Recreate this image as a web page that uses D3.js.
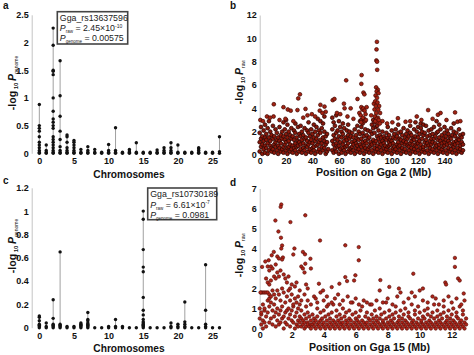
<!DOCTYPE html>
<html><head><meta charset="utf-8">
<script src="https://cdn.jsdelivr.net/npm/d3@7"></script>
<style>body{margin:0;background:#fff} text{font-family:"Liberation Sans",Arial,sans-serif}</style>
</head><body><svg id="chart" width="474" height="355"></svg>
<script>
// ---------- DATA ----------
// Panel a: -log10 P_genome per chromosome
const genomeA = [
 [0,[0.88,0.5,0.45,0.4,0.3,0.2,0.15,0.1,0.05,0.02,0]],
 [1,[0.15,0.05,0.02,0]],
 [2,[2.26,1.95,1.5,1.48,1.42,1.0,0.76,0.62,0.56,0.5,0.45,0.3,0.25,0.2,0.15,0.1,0.05,0.02,0]],
 [3,[1.67,1.04,0.67,0.4,0.25,0.12,0.05,0.02,0]],
 [4,[0.33,0.3,0.2,0.1,0.05,0.02,0]],
 [5,[0.23,0.2,0.15,0.1,0.05,0.02,0]],
 [6,[0.07,0.02,0]],
 [7,[0.12,0.05,0.02,0]],
 [8,[0.07,0.02,0]],
 [9,[0.02,0]],
 [10,[0.16,0.05,0.02,0]],
 [11,[0.46,0.05,0.02,0]],
 [12,[0.02,0]],
 [13,[0.07,0.04,0.02,0]],
 [14,[0.19,0.02,0]],
 [15,[0.02,0]],
 [16,[0.02,0]],
 [17,[0.06,0.02,0]],
 [18,[0.1,0.05,0.02,0]],
 [19,[0.19,0.1,0.05,0.02,0]],
 [20,[0.15,0.02,0]],
 [21,[0.02,0]],
 [22,[0.02,0]],
 [23,[0.1,0.08,0.05,0.02,0]],
 [24,[0.02,0]],
 [25,[0.02,0]],
 [26,[0.3,0.03,0]]
];
// Panel c
const genomeC = [
 [0,[0.1,0.09,0.06,0.03,0.02,0.01,0]],
 [1,[0.04,0.01,0]],
 [2,[0.24,0.08,0.03,0.02,0.01,0]],
 [3,[0.65,0.03,0.02,0.01,0]],
 [4,[0.01,0]],
 [5,[0.01,0]],
 [6,[0.04,0.03,0.02,0.01,0]],
 [7,[0.13,0.07,0.06,0.04,0.03,0.02,0.01,0]],
 [8,[0]],
 [9,[0]],
 [10,[0.01,0]],
 [11,[0.07,0.01,0]],
 [12,[0.01,0]],
 [13,[0]],
 [14,[0]],
 [15,[1.0,0.93,0.67,0.52,0.48,0.26,0.15,0.11,0.07,0.05,0.04,0.03,0.02,0.01,0]],
 [16,[0]],
 [17,[0]],
 [18,[0]],
 [19,[0.04,0.01,0]],
 [20,[0.03,0.01,0]],
 [21,[0.22,0.05,0.03,0.01,0]],
 [22,[0]],
 [23,[0]],
 [24,[0.54,0.15,0.03,0.01,0]],
 [25,[0]],
 [26,[0]]
];
const chromTicks = [0,5,10,15,20,25];
const ticksA = [0,0.5,1,1.5,2,2.5];
const ticksC = [0,0.2,0.4,0.6,0.8,1,1.2];

// Panel b: -log10 P_raw on Gga 2 (Mb), bulk per-Mb columns
const gga2Band = [
 [0,[0.3,1.1,1.9]],[1,[0.7,1.4,2.4]],[2,[0.1,0.9,1.6]],[3,[0.5,1.2,2.1]],[4,[0.2,0.8,1.5,2.6]],
 [5,[0.6,1.3,1.8]],[6,[0.1,1.0,2.3]],[7,[0.4,1.5,2.9]],[8,[0.8,1.2,2.0]],[9,[0.3,0.6,1.7]],
 [10,[0.5,1.4,2.5]],[11,[0.2,0.9,1.6]],[12,[0.7,1.1,2.2]],[13,[0.4,1.3,1.9]],[14,[0.1,0.8,1.5]],
 [15,[0.6,1.2,2.4]],[16,[0.3,1.0,1.7]],[17,[0.5,1.4,2.0]],[18,[0.2,0.7,1.6,2.8]],[19,[0.9,1.3,2.2]],
 [20,[0.4,1.1,1.8,3.0]],[21,[0.1,0.6,1.5,2.6]],[22,[0.7,1.2,2.0]],[23,[0.3,0.9,1.7]],[24,[0.5,1.4,2.3]],
 [25,[0.2,0.8,1.6]],[26,[0.6,1.3,2.1]],[27,[0.4,1.0,1.9,2.7]],[28,[0.1,0.7,1.5]],[29,[0.8,1.2,2.4]],
 [30,[0.3,1.1,1.8]],[31,[0.5,0.9,1.6,2.5]],[32,[0.2,1.3,2.0]],[33,[0.6,1.0,1.7]],[34,[0.4,1.4,2.3]],
 [35,[0.1,0.8,1.5]],[36,[0.7,1.2,2.1]],[37,[0.3,0.9,1.9,2.8]],[38,[0.5,1.1,1.6]],[39,[0.2,1.3,2.2]],
 [40,[0.6,1.0,1.8]],[41,[0.4,0.7,1.5,2.6]],[42,[0.1,1.2,2.0]],[43,[0.8,1.4,2.4]],[44,[0.3,0.9,1.7,3.1]],
 [45,[0.5,1.1,2.1]],[46,[0.2,1.3,1.9,2.9]],[47,[0.7,1.0,2.3]],[48,[0.4,1.5,2.7]],[49,[0.6,1.2,2.0,3.3]],
 [50,[0.1,0.9,1.6]],[51,[0.3,1.1,1.8]],[52,[0.5]],
 [55,[0.4,1.2,2.2,3.2]],[56,[0.2,0.9,1.7,2.8]],[57,[0.6,1.4,2.5]],[58,[0.3,1.0,1.9,3.4]],[59,[0.7,1.3,2.1]],
 [60,[0.1,0.8,1.6,2.9]],[61,[0.5,1.1,2.4]],[62,[0.2,1.5,2.0]],[63,[0.6,0.9,1.8,2.7]],[64,[0.4,1.2,2.3]],
 [65,[0.1,0.7,1.5]],[66,[0.8,1.3,2.1]],[67,[0.3,1.0,1.7,2.6]],[68,[0.5,1.4,2.0]],[69,[0.2,0.6,1.6]],
 [70,[0.7,1.1,1.9]],[71,[0.4,0.9,1.5]],[72,[0.1,1.2,2.2]],[73,[0.6,1.0,1.7]],[74,[0.3,0.8,1.4,2.5]],
 [75,[0.5,1.3,2.0]],[76,[0.2,0.9,1.8,2.9]],[77,[0.7,1.4,2.4,3.0]],[78,[0.4,1.1,1.9,2.7]],[79,[0.1,0.8,1.6,3.1]],
 [80,[0.6,1.2,2.2]],[81,[0.3,1.0,1.7]],[82,[0.5,1.4,2.1]],[83,[0.2,0.7,1.5]],[84,[0.8,1.1,2.0]],
 [85,[0.4,0.9,1.8,2.6]],[86,[0.1,1.3,2.3,3.0]],[87,[0.6,1.0,1.9,2.8]],[88,[0.3,1.2,2.4,3.2]],[89,[0.5,0.8,1.6,2.5]],
 [90,[0.2,1.4,2.1]],[91,[0.7,1.1,1.7]],[92,[0.4,0.9,1.5]],[93,[0.1,1.2,2.0]],[94,[0.6,1.0,1.6]],
 [95,[0.3,0.8,1.4]],[96,[0.5,1.3,1.9]],[97,[0.2,0.7,1.5,2.4]],[98,[0.8,1.1,1.7]],[99,[0.4,0.9,1.3]],
 [100,[0.1,1.2,2.1]],[101,[0.6,1.0,1.5]],[102,[0.3,0.7,1.8]],[103,[0.5,1.4,2.2]],[104,[0.2,0.9,1.6]],
 [105,[0.7,1.1,1.9,2.6]],[106,[0.4,0.8,1.4]],[107,[0.1,1.3,2.0]],[108,[0.6,1.0,1.7]],[109,[0.3,1.2,2.3]],
 [110,[0.5,0.9,1.5]],[111,[0.2,1.1,1.8]],[112,[0.8,1.4,2.1]],[113,[0.4,0.7,1.6]],[114,[0.1,1.0,1.9,2.5]],
 [115,[0.6,1.2,1.7]],[116,[0.3,0.9,1.4]],[117,[0.5,1.3,2.2]],[118,[0.2,0.8,1.6,2.8]],[119,[0.7,1.1,2.0]],
 [120,[0.4,1.0,1.5,2.4]],[121,[0.1,1.2,1.8]],[122,[0.6,0.9,2.3,2.7]],[123,[0.3,1.4,2.0]],[124,[0.5,0.7,1.7,2.6]],
 [125,[0.2,1.1,1.9]],[126,[0.8,1.3,2.5]],[127,[0.4,1.0,1.6]],[128,[0.1,0.8,2.1]],[129,[0.6,1.2,1.7]],
 [130,[0.3,0.9,1.4,2.2]],[131,[0.5,1.1,1.8]],[132,[0.2,1.4,2.4]],[133,[0.7,1.0,1.6]],[134,[0.4,0.8,1.9,2.9]],
 [135,[0.1,1.3,2.0]],[136,[0.6,0.9,1.5,2.6]],[137,[0.3,1.2,2.2]],[138,[0.5,1.0,1.7]],[139,[0.2,0.7,1.4]],
 [140,[0.8,1.1,1.9,2.4]],[141,[0.4,1.3,1.6]],[142,[0.1,0.9,2.1]],[143,[0.6,1.2,1.8]],[144,[0.3,1.0,1.5]],
 [145,[0.5,1.4,2.3]],[146,[0.2,0.8,1.7]],[147,[0.7,1.1,2.0,2.7]],[148,[0.4,0.9,1.6]],[149,[0.1,1.2,1.9]],
 [150,[0.6,1.0,1.4]],[151,[0.3,1.3,2.2]],[152,[0.5,0.8,1.7]],[153,[0.2,1.1,1.5]],[154,[0.4,0.9,1.8]]
];
// Panel b: higher single SNPs [Mb, -log10 P]
const gga2Peaks = [
 [88.8,9.7],[88.5,9.05],[88.4,8.1],[88.9,8.0],[89.0,7.3],[77.2,6.85],[65.5,6.4],[77.0,6.1],
 [88.2,5.8],[89.5,5.6],[88.6,5.45],[90.0,5.3],[87.8,5.1],[78.6,5.35],[79.3,5.2],[30.5,5.2],
 [29.2,4.85],[10.7,4.35],[18.0,4.1],[21.3,3.9],[23.5,3.8],[28.6,3.85],[34.7,3.95],[36.2,3.4],
 [46.0,4.3],[49.1,4.15],[50.0,3.7],[55.3,4.7],[56.6,4.8],[63.8,4.4],[64.3,4.0],[68.9,4.0],
 [74.1,4.8],[75.5,3.6],[77.0,4.1],[77.8,3.9],[78.5,4.0],[79.5,3.8],[80.2,3.5],[81.0,4.1],
 [76.5,3.4],[86.5,4.4],[87.0,3.9],[87.5,4.6],[88.0,4.2],[88.9,4.9],[89.2,4.5],[89.8,3.9],
 [90.5,4.2],[91.2,3.6],[87.3,3.3],[89.5,3.2],[104.7,3.15],[110.5,2.85],[119.0,3.3],[127.6,3.85],
 [135.0,3.45],[137.0,3.6],[148.0,3.65],[149.8,2.85],[0.5,3.0],[5.5,3.3],[10.5,3.3],[2.5,2.9],
 [7.8,3.2],[15.0,3.0],[19.5,3.1],[25.5,2.9],[33.0,3.2],[39.5,3.5],[42.0,3.3],[45.5,3.8],
 [47.5,3.6],[58.5,3.6],[61.0,3.5],[66.5,3.3],[71.0,3.1],[84.5,3.4],[93.0,2.9],[96.5,2.7],
 [100.5,2.8],[114.0,2.9],[122.5,3.0],[131.0,3.1],[141.5,3.0],[152.0,2.9],[88.3,3.6],[88.7,3.1],
 [89.1,2.8],[87.6,2.9],[90.2,3.0],[91.0,2.7],[78.2,3.2],[79.8,2.9],[80.5,3.0],[76.8,2.8]
];
const ticksB = [0,2,4,6,8,10,12];
const posTicksB = [0,20,40,60,80,100,120,140];

// Panel d: -log10 P_raw on Gga 15 (Mb), bulk per-0.1 Mb columns
const gga15Band = [
 [0.0,[0.5,1.0]],[0.1,[0.2,0.7]],[0.2,[0.0,0.4]],[0.3,[0.9,0.3]],[0.4,[0.6,0.1]],[0.5,[0.8,1.4]],
 [0.6,[0.3,1.1]],[0.7,[0.5,1.3]],[0.8,[0.2,0.9]],[0.9,[0.6,1.2]],[1.0,[0.1,0.8]],[1.1,[0.4,1.0]],
 [1.2,[0.7,0.2]],[1.3,[0.9,0.3]],[1.4,[0.5,1.1]],[1.5,[0.0,0.6]],[1.6,[0.8,0.3]],[1.7,[0.2,0.9]],
 [1.8,[0.5,1.0]],[1.9,[0.1,0.7]],[2.0,[0.4,0.9]],[2.1,[0.3,1.1]],[2.2,[0.6,0.0]],[2.3,[0.2,0.8]],
 [2.4,[0.4,1.0,0.1]],[2.5,[0.3,0.6]],[2.6,[0.1,0.5,0.9]],[2.7,[0.2,0.4]],[2.8,[0.0,0.7,0.3]],[2.9,[0.1,0.5]],
 [3.0,[0.3,0.2,0.8]],[3.1,[0.1,0.6]],[3.2,[0.4,0.0,0.2]],[3.3,[0.2,0.7]],[3.4,[0.1,0.3,0.5]],[3.5,[0.0,0.4]],
 [3.6,[0.2,0.6,1.0]],[3.7,[0.1,0.3]],[3.8,[0.4,0.0,0.8]],[3.9,[0.2,0.5]],[4.0,[0.1,0.3,0.9]],[4.1,[0.0,0.6]],
 [4.2,[0.2,0.4,1.1]],[4.3,[0.1,0.7]],[4.4,[0.3,0.0,0.5]],[4.5,[0.2,0.8]],[4.6,[0.1,0.4,1.2]],[4.7,[0.0,0.3]],
 [4.8,[0.2,0.6,0.9]],[4.9,[0.1,0.4]],[5.0,[0.3,0.0,0.7]],[5.1,[0.2,0.5]],[5.2,[0.1,0.3,1.0]],[5.3,[0.0,0.6]],
 [5.4,[0.2,0.4,0.8]],[5.5,[0.1,0.3]],[5.6,[0.5,0.0,0.9]],[5.7,[0.2,0.4]],[5.8,[0.1,0.7,1.3]],[5.9,[0.3,0.0]],
 [6.0,[0.2,0.5,0.8]],[6.1,[0.1,0.4]],[6.2,[0.0,0.3,0.6]],[6.3,[0.2,0.9]],[6.4,[0.1,0.4,1.1]],[6.5,[0.3,0.0]],
 [6.6,[0.2,0.6]],[6.7,[0.1,0.3,0.8]],[6.8,[0.0,0.5]],[6.9,[0.2,0.4,1.2]],[7.0,[0.1,0.7]],[7.1,[0.3,0.0,0.5]],
 [7.2,[0.2,0.9]],[7.3,[0.1,0.4,0.6]],[7.4,[0.0,0.3]],[7.5,[0.2,0.5,1.0]],[7.6,[0.1,0.7]],[7.7,[0.3,0.0,0.4]],
 [7.8,[0.2,0.8]],[7.9,[0.1,0.5,1.3]],[8.0,[0.0,0.3]],[8.1,[0.2,0.6,0.9]],[8.2,[0.1,0.4]],[8.3,[0.3,0.0,0.7]],
 [8.4,[0.2,0.5]],[8.5,[0.1,0.8,1.1]],[8.6,[0.0,0.3]],[8.7,[0.2,0.6,0.4]],[8.8,[0.1,0.9]],[8.9,[0.3,0.0,0.5]],
 [9.0,[0.2,0.7]],[9.1,[0.1,0.4,1.0]],[9.2,[0.0,0.3]],[9.3,[0.2,0.6,0.8]],[9.4,[0.1,0.5]],[9.5,[0.3,0.0,1.2]],
 [9.6,[0.2,0.4]],[9.7,[0.1,0.7,0.9]],[9.8,[0.0,0.3]],[9.9,[0.2,0.5,1.1]],[10.0,[0.1,0.8]],[10.1,[0.3,0.0,0.4]],
 [10.2,[0.2,0.6]],[10.3,[0.1,0.9,0.5]],[10.4,[0.0,0.3]],[10.5,[0.2,0.7,1.0]],[10.6,[0.1,0.4]],[10.7,[0.3,0.0,0.6]],
 [10.8,[0.2,0.8]],[10.9,[0.1,0.5,1.2]],[11.0,[0.0,0.3]],[11.1,[0.2,0.6,0.9]],[11.2,[0.1,0.4]],[11.3,[0.3,0.0,0.7]],
 [11.4,[0.2,0.5]],[11.5,[0.1,0.8,1.1]],[11.6,[0.0,0.3]],[11.7,[0.2,0.6,0.4]],[11.8,[0.1,0.9]],[11.9,[0.3,0.0,0.5]],
 [12.0,[0.2,0.7]],[12.1,[0.1,0.4,1.0]],[12.2,[0.0,0.3]],[12.3,[0.2,0.6,0.8]],[12.4,[0.1,0.5]],[12.5,[0.3,0.0,1.1]],
 [12.6,[0.2,0.4]],[12.7,[0.1,0.7,0.9]],[12.8,[0.0,0.3]],[12.9,[0.2,0.5]]
];
const gga15Upper = [
 [1.35,6.2],[1.31,6.08],[2.85,5.66],[0.98,5.4],[1.92,5.32],[1.17,4.85],[1.33,4.54],[3.77,4.4],
 [5.35,4.16],[6.19,4.07],[6.19,3.41],[1.4,4.15],[1.35,4.0],[2.17,4.0],[0.88,3.83],[0.75,3.66],
 [0.56,3.41],[2.7,3.83],[2.83,3.71],[2.85,3.24],[3.17,3.49],[2.1,3.7],[1.45,3.55],[1.4,3.45],
 [1.1,3.6],[1.2,3.5],[0.35,3.35],[0.15,3.08],[12.2,3.53],[12.2,3.08],[9.6,2.74],[7.54,2.42],
 [8.1,2.08],[11.6,2.3],[11.65,2.2],[12.4,2.5],[12.5,2.4],[12.75,1.75],[3.7,2.24],[3.96,1.9],
 [4.5,2.07],[4.98,2.24],[5.35,2.57],[5.46,2.37],[5.98,2.66],[5.9,2.4],
 [0.5,3.1],[0.6,2.9],[0.7,3.1],[0.8,3.0],[1.0,3.2],[0.9,2.6],[0.4,2.5],[0.5,2.3],[0.6,2.2],
 [0.7,2.4],[1.0,2.5],[1.1,2.8],[1.2,2.6],[1.3,2.9],[1.5,2.7],[1.6,2.5],[1.7,2.3],[1.8,2.6],
 [1.9,2.0],[2.0,2.2],[2.2,2.1],[2.3,2.3],[2.5,1.9],[2.6,3.1],[2.7,3.0],[2.8,2.8],[2.9,2.2],
 [3.0,2.0],[3.2,3.0],[3.4,1.6],[0.2,1.8],[0.1,1.8],[0.3,1.8],[0.4,1.8],[0.05,1.8],[0.5,1.8],
 [0.6,1.7],[0.6,1.5],[0.7,1.6],[0.8,1.9],[0.9,1.7],[1.0,1.5],[1.1,1.9],[1.2,1.7],[1.3,1.4],
 [1.4,2.0],[1.5,1.8],[1.6,1.3],[1.7,1.6],[1.8,1.9],[1.9,1.4],[2.0,1.7],[2.1,1.2],[2.2,1.5],
 [2.3,1.3],[2.4,1.6],[2.5,1.2],[2.6,1.4],[2.8,1.7],[2.9,1.1],[3.0,1.4],[3.2,1.2],[3.5,1.5],
 [3.6,1.3],[3.8,1.8],[4.0,1.4],[4.2,1.6],[4.3,1.2],[4.5,1.3],[4.7,1.5],[4.9,1.7],[5.0,1.2],
 [5.2,1.4],[5.5,1.6],[5.7,1.3],[6.0,1.5],[6.2,1.2],[6.5,1.4],[6.7,1.3],[7.0,1.2],[7.3,1.4],
 [7.5,1.9],[7.7,1.3],[8.0,1.5],[8.3,1.2],[8.6,1.6],[8.8,1.8],[8.7,2.0],[9.0,1.3],[9.3,1.5],
 [9.5,1.8],[9.7,1.6],[10.0,1.9],[10.2,2.0],[10.2,1.4],[10.5,1.3],[10.8,1.6],[11.0,1.5],[11.2,1.2],
 [11.5,1.4],[11.8,1.6],[12.0,1.3],[12.3,1.5],[12.6,1.2],[12.8,1.4],[0.3,1.0],[0.2,1.2],[0.1,0.8]
];
const ticksD = [0,1,2,3,4,5,6,7];
const posTicksD = [0,2,4,6,8,10,12];

// ---------- DRAW ----------
const svg = d3.select("#chart");
const fmt = d => String(d);

function yAxis(y, vals, x0) {
  const g = svg.append("g").attr("transform", `translate(${x0},0)`)
    .call(d3.axisLeft(y).tickValues(vals).tickFormat(fmt).tickSize(0).tickPadding(3));
  g.select(".domain").attr("stroke", "#c4c4c4").attr("stroke-width", 1);
  g.selectAll("text").attr("font-size", 9).attr("font-weight", "bold").attr("fill", "#111");
}
function xAxis(x, vals, y0, pad) {
  const g = svg.append("g").attr("transform", `translate(0,${y0})`)
    .call(d3.axisBottom(x).tickValues(vals).tickFormat(fmt).tickSize(0).tickPadding(pad));
  g.select(".domain").remove();
  g.selectAll("text").attr("font-size", 9).attr("font-weight", "bold").attr("fill", "#111");
}
function title(txt, x, y, size) {
  svg.append("text").attr("x", x).attr("y", y).attr("text-anchor", "middle")
    .attr("font-size", size).attr("font-weight", "bold").attr("fill", "#111").text(txt);
}
function yLabel(x, y, sub) {
  const t = svg.append("text").attr("transform", `translate(${x},${y}) rotate(-90)`)
    .attr("text-anchor", "middle").attr("font-weight", "bold").attr("fill", "#111").attr("font-size", 10.5);
  t.append("tspan").text("-log");
  t.append("tspan").attr("font-size", 6).attr("dy", 2).text(" 10 ");
  t.append("tspan").attr("font-style", "italic").attr("dy", -2).text("P");
  t.append("tspan").attr("font-size", 5).attr("font-weight", "normal").attr("dy", 2).text(sub);
}
function panelLabel(txt, x, y) {
  svg.append("text").attr("x", x).attr("y", y).attr("font-size", 10).attr("font-weight", "bold")
    .attr("fill", "#111").text(txt);
}
function infoBox(x0, y0, w, h, snp, praw, pexp, pgen) {
  svg.append("rect").attr("x", x0).attr("y", y0).attr("width", w).attr("height", h)
    .attr("fill", "#fff").attr("stroke", "#444").attr("stroke-width", 1.6);
  const fs = 8.8, lx = x0 + 2.5;
  svg.append("text").attr("x", lx).attr("y", y0 + 9).attr("font-size", fs).attr("fill", "#222").text(snp);
  const t2 = svg.append("text").attr("x", lx).attr("y", y0 + 19.5).attr("font-size", fs).attr("fill", "#222");
  t2.append("tspan").attr("font-style", "italic").text("P");
  t2.append("tspan").attr("font-size", 4.5).attr("dy", 2).text("raw");
  t2.append("tspan").attr("dy", -2).text(" = " + praw + "×10");
  t2.append("tspan").attr("font-size", 5).attr("dy", -3.5).text(pexp);
  const t3 = svg.append("text").attr("x", lx).attr("y", y0 + 29.5).attr("font-size", fs).attr("fill", "#222");
  t3.append("tspan").attr("font-style", "italic").text("P");
  t3.append("tspan").attr("font-size", 4.5).attr("dy", 2).text("genome");
  t3.append("tspan").attr("dy", -2).text(" = " + pgen);
}
function genomePanel(data, x, y) {
  const g = svg.append("g");
  g.selectAll("line.stem").data(data).join("line")
    .attr("x1", d => x(d[0])).attr("x2", d => x(d[0]))
    .attr("y1", y(0)).attr("y2", d => y(d3.max(d[1])))
    .attr("stroke", "#a0a0a0").attr("stroke-width", 1);
  const pts = data.flatMap(d => d[1].map(v => [d[0], v]));
  g.selectAll("circle").data(pts).join("circle")
    .attr("cx", d => x(d[0])).attr("cy", d => y(d[1])).attr("r", 1.7).attr("fill", "#111");
}
function scatter(pts, x, y, r, fill, stroke, sw) {
  svg.append("g").selectAll("circle").data(pts).join("circle")
    .attr("cx", d => x(d[0])).attr("cy", d => y(d[1])).attr("r", r)
    .attr("fill", fill).attr("stroke", stroke).attr("stroke-width", sw);
}

// Panel a
const xA = d3.scaleLinear().domain([-1.1, 27]).range([31.7, 226.4]);
const yA = d3.scaleLinear().domain([0, 2.5]).range([153.3, 14.8]);
yAxis(yA, ticksA, 31.7);
genomePanel(genomeA, xA, yA);
xAxis(xA, chromTicks, 153.3, 4.0);
title("Chromosomes", 129, 177.5, 10.2);
yLabel(16, 83, "genome");
panelLabel("a", 3, 9);
infoBox(57.3, 11.7, 70.4, 32.3, "Gga_rs13637596", "2.45", "-10", "0.00575");

// Panel c
const yC = d3.scaleLinear().domain([0, 1.2]).range([327.7, 187.8]);
yAxis(yC, ticksC, 31.7);
genomePanel(genomeC, xA, yC);
xAxis(xA, chromTicks, 327.7, 5.2);
title("Chromosomes", 129, 351.5, 10.2);
yLabel(16, 246, "genome");
panelLabel("c", 3, 184);
infoBox(147.7, 188, 69, 31.7, "Gga_rs10730189", "6.61", "-7", "0.0981");

// Panel b
const xB = d3.scaleLinear().domain([0, 155]).range([259.7, 259.7 + 155 * 1.32]);
const yB = d3.scaleLinear().domain([0, 12]).range([155, 15]);
yAxis(yB, ticksB, 259.7);
const bandB = gga2Band.flatMap(d => d[1].map(v => [d[0], v]));
scatter(bandB, xB, yB, 1.9, "#8a180b", "#2c0602", 0.8);
scatter(gga2Peaks, xB, yB, 1.9, "#a32212", "#420a04", 0.7);
xAxis(xB, posTicksB, 155, 2.3);
title("Position on Gga 2 (Mb)", 373.7, 175.5, 10.6);
yLabel(243, 82, "raw");
panelLabel("b", 230, 9);

// Panel d
const xD = d3.scaleLinear().domain([0, 13]).range([259.7, 259.7 + 13 * 16]);
const yD = d3.scaleLinear().domain([0, 7]).range([328.5, 188.5]);
yAxis(yD, ticksD, 259.7);
const bandD = gga15Band.flatMap(d => d[1].map(v => [d[0], v]));
scatter(bandD, xD, yD, 1.7, "#b0251a", "#5a1008", 0.7);
scatter(gga15Upper, xD, yD, 1.7, "#b0251a", "#5a1008", 0.7);
xAxis(xD, posTicksD, 328.5, 3.6);
title("Position on Gga 15 (Mb)", 369.5, 351, 10.6);
yLabel(243, 255, "raw");
panelLabel("d", 230, 186);
</script></body></html>
